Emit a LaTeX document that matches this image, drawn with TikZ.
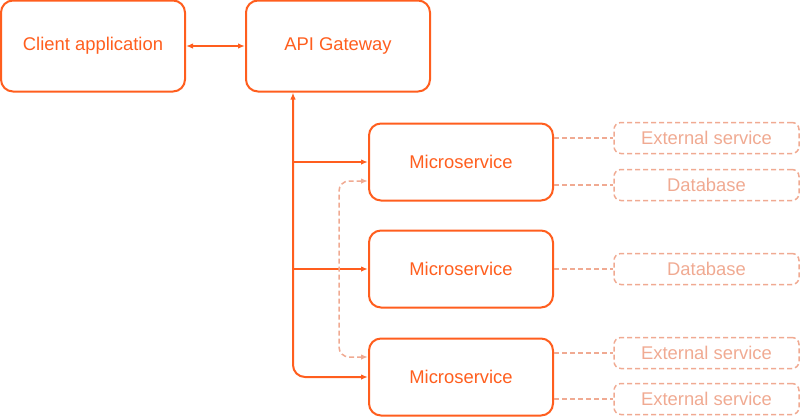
\documentclass[tikz,border=0pt]{standalone}
\usepackage{fontspec}
\setmainfont{Liberation Sans}
\usetikzlibrary{arrows.meta,calc}
\definecolor{org}{RGB}{255,94,30}
\definecolor{lite}{RGB}{240,170,146}
\tikzset{
  box/.style={draw=org, line width=2pt, rounded corners=12pt, text=org,
    minimum width=184pt, inner sep=0pt, font=\fontsize{18.4}{22}\selectfont},
  extbox/.style={draw=lite, line width=1.5pt, dash pattern=on 5pt off 3pt,
    rounded corners=7pt, text=lite, minimum width=185pt, minimum height=31pt,
    inner sep=0pt, font=\fontsize{18.4}{22}\selectfont},
  tip/.style={arrows={-Latex[length=7pt,width=5.5pt]}},
  tips/.style={arrows={Latex[length=7pt,width=5.5pt]-Latex[length=7pt,width=5.5pt]}},
  link/.style={draw=org, line width=2pt},
  dlink/.style={draw=lite, line width=1.5pt, dash pattern=on 5pt off 3pt},
}
\begin{document}
\begin{tikzpicture}[x=1pt,y=-1pt]
\useasboundingbox (0,0) rectangle (800,416);
\node[box, minimum height=91pt] (CA) at (93,46) {Client application};
\node[box, minimum height=91pt] (GW) at (338,46) {API Gateway};
\node[box, minimum height=77pt] (MS1) at (461,162) {Microservice};
\node[box, minimum height=77pt] (MS2) at (461,269) {Microservice};
\node[box, minimum height=77pt] (MS3) at (461,377) {Microservice};
\node[extbox] (ES1) at (706.5,138) {External service};
\node[extbox] (DB1) at (706.5,185) {Database};
\node[extbox] (DB2) at (706.5,269) {Database};
\node[extbox] (ES2) at (706.5,353) {External service};
\node[extbox] (ES3) at (706.5,399) {External service};
% client <-> gateway
\draw[link, tips] (CA.east) -- (GW.west);
% trunk
\coordinate (T) at (293,0);
\draw[link, tips, rounded corners=12pt]
  (T |- GW.south) -- (T |- MS3.west) -- (MS3.west);
\draw[link, tip] (T |- MS1.west) -- (MS1.west);
\draw[link, tip] (T |- MS2.west) -- (MS2.west);
% dashed link between MS1 and MS3
\coordinate (D) at (339,0);
\coordinate (a) at ([yshift=-19pt]MS1.west);
\coordinate (b) at ([yshift=20pt]MS3.west);
\draw[dlink, tips, rounded corners=10pt]
  (a) -| (D |- b) -- (b);
% dashed connectors to external resources
\draw[dlink] (MS1.east |- ES1.west) -- (ES1.west);
\draw[dlink] (MS1.east |- DB1.west) -- (DB1.west);
\draw[dlink] (MS2.east |- DB2.west) -- (DB2.west);
\draw[dlink] (MS3.east |- ES2.west) -- (ES2.west);
\draw[dlink] (MS3.east |- ES3.west) -- (ES3.west);
\end{tikzpicture}
\end{document}
